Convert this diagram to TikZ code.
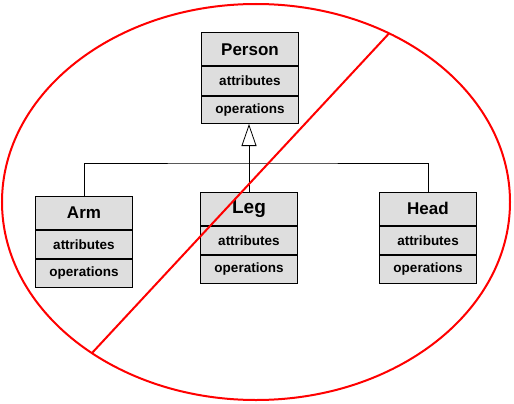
\documentclass[tikz,border=0pt]{standalone}
\usepackage{fontspec}
\setmainfont{Liberation Sans}
\usetikzlibrary{arrows.meta,shapes.geometric}
\begin{document}
\begin{tikzpicture}[x=1pt,y=-1pt,
  comp/.style={draw=black,line width=1pt,fill=black!13,minimum width=97pt,inner sep=0pt,anchor=north,font=\bfseries\fontsize{13.5}{15}\selectfont},
  titlec/.style={comp,minimum height=32.5pt,font=\bfseries\fontsize{17}{19}\selectfont},
  attrc/.style={comp,minimum height=28.5pt},
  opsc/.style={comp,minimum height=27.5pt},
  conn/.style={draw=black,line width=0.8pt},
  cross/.style={draw=red,line width=2pt}]
\useasboundingbox (0,0) rectangle (514,404);
% ellipse
\node[cross,ellipse,minimum width=508pt,minimum height=396pt,inner sep=0pt] (oval) at (256,202) {};
% Person
\node[titlec] (pT) at (250,32.5) {Person};
\node[attrc] (pA) at (pT.south) {attributes};
\node[opsc] (pO) at (pA.south) {operations};
% Arm
\node[titlec] (aT) at (84,196) {Arm};
\node[attrc] (aA) at (aT.south) {attributes};
\node[opsc] (aO) at (aA.south) {operations};
% Leg
\node[titlec,font=\bfseries\fontsize{19}{21}\selectfont] (lT) at (249,192) {Leg};
\node[attrc] (lA) at (lT.south) {attributes};
\node[opsc] (lO) at (lA.south) {operations};
% Head
\node[titlec] (hT) at (428,192) {Head};
\node[attrc] (hA) at (hT.south) {attributes};
\node[opsc] (hO) at (hA.south) {operations};
% connectors
\coordinate (j) at (249,163);
\draw[conn] (aT.north) |- (j) -| (hT.north);
\draw[conn,-{Triangle[open,length=22pt,width=15pt,line width=0.8pt]}] (lT.north) -- (lT.north |- pO.south);
% cross line
\coordinate (c1) at (92,353);
\coordinate (c2) at (388.5,34);
\draw[cross] (c1) -- (c2);
\end{tikzpicture}
\end{document}
